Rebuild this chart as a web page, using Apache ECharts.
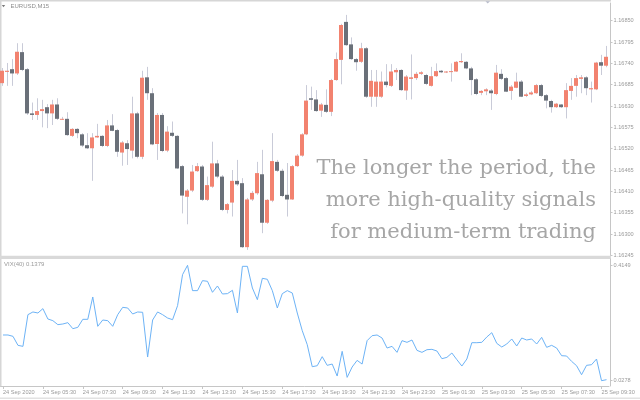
<!DOCTYPE html>
<html><head><meta charset="utf-8">
<script src="https://cdn.jsdelivr.net/npm/echarts@6/dist/echarts.min.js"></script>
<style>html,body{margin:0;padding:0;background:#fff}#c{width:640px;height:400px}</style>
</head><body><div id="c"></div>
<script>
// time tick labels, one every 8 bars (M15)
const tickLabels = ['24 Sep 2020','24 Sep 05:30','24 Sep 07:30','24 Sep 09:30','24 Sep 11:30','24 Sep 13:30','24 Sep 15:30','24 Sep 17:30','24 Sep 19:30','24 Sep 21:30','24 Sep 23:30','25 Sep 01:30','25 Sep 03:30','25 Sep 05:30','25 Sep 07:30','25 Sep 09:30'];
const priceTicks = [1.16850,1.16795,1.16740,1.16685,1.16630,1.16575,1.16520,1.16465,1.16410,1.16355,1.16300,1.16245];
const vixTicks = [0.4149,0.0278];

const opens = [
1.16689,1.16718,1.16725,1.16714,1.16769,1.16725,1.16611,1.16607,1.16617,1.16627,
1.16611,1.16634,1.16595,1.16597,1.16553,1.16571,1.16557,1.16529,1.16521,1.16549,
1.16553,1.16527,1.16580,1.16568,1.16510,1.16534,1.16515,1.16611,1.16499,1.16704,
1.16663,1.16532,1.16607,1.16515,1.16561,1.16553,1.16475,1.16396,1.16412,1.16462,
1.16474,1.16388,1.16422,1.16482,1.16448,1.16362,1.16381,1.16437,1.16431,1.16266,
1.16389,1.16405,1.16454,1.16329,1.16386,1.16486,1.16463,1.16401,1.16389,1.16475,
1.16502,1.16557,1.16650,1.16647,1.16618,1.16633,1.16615,1.16697,1.16749,1.16847,
1.16789,1.16751,1.16744,1.16779,1.16654,1.16654,1.16654,1.16693,1.16682,1.16717,
1.16723,1.16670,1.16700,1.16702,1.16713,1.16710,1.16682,1.16707,1.16721,1.16718,
1.16718,1.16719,1.16743,1.16744,1.16727,1.16699,1.16664,1.16668,1.16670,1.16661,
1.16713,1.16702,1.16669,1.16677,1.16693,1.16656,1.16660,1.16663,1.16684,1.16658,
1.16643,1.16627,1.16634,1.16627,1.16669,1.16682,1.16700,1.16704,1.16673,1.16673,
1.16743,1.16734];
const closes = [
1.16721,1.16721,1.16714,1.16770,1.16723,1.16611,1.16607,1.16617,1.16622,1.16611,
1.16634,1.16597,1.16597,1.16555,1.16571,1.16560,1.16528,1.16521,1.16549,1.16553,
1.16527,1.16580,1.16566,1.16512,1.16536,1.16519,1.16611,1.16499,1.16703,1.16663,
1.16531,1.16607,1.16514,1.16564,1.16553,1.16469,1.16399,1.16412,1.16461,1.16475,
1.16388,1.16426,1.16482,1.16448,1.16362,1.16377,1.16437,1.16428,1.16266,1.16389,
1.16406,1.16457,1.16329,1.16388,1.16488,1.16463,1.16398,1.16389,1.16475,1.16502,
1.16557,1.16644,1.16646,1.16617,1.16634,1.16615,1.16697,1.16751,1.16839,1.16787,
1.16751,1.16743,1.16779,1.16654,1.16695,1.16693,1.16693,1.16684,1.16719,1.16723,
1.16671,1.16706,1.16704,1.16713,1.16717,1.16687,1.16707,1.16720,1.16717,1.16719,
1.16720,1.16744,1.16746,1.16727,1.16697,1.16661,1.16669,1.16673,1.16663,1.16716,
1.16700,1.16667,1.16680,1.16693,1.16654,1.16660,1.16665,1.16684,1.16656,1.16644,
1.16627,1.16636,1.16627,1.16671,1.16682,1.16702,1.16704,1.16676,1.16676,1.16742,
1.16734,1.16757];
const lows = [
1.16682,1.16682,1.16682,1.16710,1.16720,1.16607,1.16594,1.16594,1.16575,1.16573,
1.16581,1.16594,1.16594,1.16553,1.16550,1.16547,1.16524,1.16519,1.16437,1.16548,
1.16524,1.16524,1.16565,1.16499,1.16476,1.16478,1.16495,1.16495,1.16493,1.16646,
1.16529,1.16491,1.16511,1.16511,1.16550,1.16468,1.16353,1.16325,1.16408,1.16460,
1.16385,1.16385,1.16419,1.16444,1.16359,1.16353,1.16345,1.16424,1.16264,1.16259,
1.16385,1.16401,1.16302,1.16326,1.16382,1.16460,1.16395,1.16345,1.16388,1.16473,
1.16499,1.16555,1.16620,1.16615,1.16602,1.16612,1.16604,1.16695,1.16686,1.16785,
1.16749,1.16721,1.16741,1.16651,1.16628,1.16628,1.16651,1.16678,1.16679,1.16697,
1.16669,1.16646,1.16647,1.16697,1.16710,1.16684,1.16680,1.16705,1.16715,1.16715,
1.16693,1.16718,1.16741,1.16725,1.16658,1.16658,1.16658,1.16658,1.16620,1.16658,
1.16697,1.16666,1.16646,1.16676,1.16653,1.16653,1.16658,1.16661,1.16653,1.16624,
1.16613,1.16625,1.16625,1.16598,1.16646,1.16654,1.16663,1.16658,1.16639,1.16671,
1.16710,1.16730];
const highs = [
1.16728,1.16741,1.16751,1.16792,1.16792,1.16728,1.16639,1.16650,1.16646,1.16635,
1.16646,1.16650,1.16602,1.16614,1.16573,1.16573,1.16560,1.16560,1.16560,1.16584,
1.16555,1.16594,1.16609,1.16571,1.16540,1.16542,1.16654,1.16615,1.16721,1.16731,
1.16676,1.16612,1.16612,1.16578,1.16590,1.16555,1.16478,1.16416,1.16478,1.16483,
1.16478,1.16448,1.16538,1.16491,1.16452,1.16380,1.16465,1.16491,1.16444,1.16393,
1.16411,1.16486,1.16517,1.16390,1.16560,1.16491,1.16468,1.16483,1.16478,1.16506,
1.16560,1.16684,1.16680,1.16671,1.16638,1.16673,1.16700,1.16768,1.16842,1.16865,
1.16807,1.16754,1.16793,1.16782,1.16723,1.16723,1.16719,1.16738,1.16738,1.16728,
1.16725,1.16710,1.16763,1.16718,1.16720,1.16713,1.16731,1.16740,1.16723,1.16720,
1.16740,1.16746,1.16766,1.16746,1.16731,1.16702,1.16671,1.16676,1.16674,1.16736,
1.16725,1.16705,1.16684,1.16716,1.16697,1.16664,1.16669,1.16687,1.16687,1.16661,
1.16646,1.16638,1.16635,1.16689,1.16702,1.16710,1.16710,1.16707,1.16693,1.16744,
1.16762,1.16785];
const vix = [
0.1811,0.1811,0.1766,0.1464,0.1430,0.2493,0.2583,0.2549,0.2695,0.2348,
0.2292,0.2158,0.2180,0.2225,0.2023,0.2068,0.2337,0.2337,0.3086,0.2102,
0.2314,0.2292,0.2102,0.2493,0.2739,0.2717,0.2516,0.2583,0.2572,0.1072,
0.2314,0.2583,0.2493,0.2381,0.2325,0.2795,0.3836,0.4149,0.3299,0.3299,
0.3634,0.3612,0.3243,0.3455,0.3187,0.3198,0.3310,0.2549,0.4115,0.4115,
0.3388,0.2997,0.3713,0.3679,0.3299,0.2717,0.3198,0.3299,0.3220,0.2549,
0.1956,0.1486,0.0748,0.0781,0.1084,0.0793,0.0837,0.0435,0.1263,0.0390,
0.0737,0.0960,0.0837,0.1621,0.1788,0.1811,0.1710,0.1374,0.1430,0.1229,
0.1621,0.1565,0.1643,0.1296,0.1229,0.1318,0.1330,0.1274,0.1016,0.1061,
0.1207,0.0983,0.0770,0.1005,0.1553,0.1553,0.1565,0.1744,0.1889,0.1531,
0.1408,0.1509,0.1677,0.1442,0.1710,0.1643,0.1677,0.1509,0.1732,0.1397,
0.1464,0.1374,0.1117,0.1106,0.0927,0.0781,0.0479,0.0793,0.0815,0.1005,
0.0278,0.0312];

const categories = opens.map((_, i) => String(i));
const candleData = opens.map((o, i) => [i, o, closes[i], lows[i], highs[i]]);

const UP = '#f2826f', DOWN = '#6a7079', WICK = '#c9cbd8';
const AX = '#c6c6c6', LBL = '#9a9a9a';
const FONT = 'Liberation Sans';

const chart = echarts.init(document.getElementById('c'), null, {renderer: 'canvas'});
chart.setOption({
  animation: false,
  backgroundColor: '#ffffff',
  grid: [
    {left: -1, top: 3, width: 610, height: 252.3},
    {left: -1, top: 259, width: 610, height: 127}
  ],
  xAxis: [
    {type: 'category', gridIndex: 0, data: categories, boundaryGap: true,
     axisLine: {show: false}, axisTick: {show: false}, axisLabel: {show: false}, splitLine: {show: false}},
    {type: 'category', gridIndex: 1, data: categories, boundaryGap: true,
     axisLine: {show: true, lineStyle: {color: AX, width: 1}},
     axisTick: {show: true, alignWithLabel: true, interval: 7, length: 3, lineStyle: {color: AX}},
     axisLabel: {show: true, interval: 7, align: 'left', margin: 3, fontSize: 5.6, color: LBL, fontFamily: FONT,
       formatter: (v, idx) => (idx % 8 === 0 && tickLabels[idx / 8]) ? tickLabels[idx / 8] : ''},
     splitLine: {show: false}}
  ],
  yAxis: [
    {type: 'value', gridIndex: 0, position: 'right', min: 1.16245, max: 1.168957, offset: 1.5, scale: true,
     axisLine: {show: true, lineStyle: {color: AX}},
     axisTick: {show: true, length: 2, customValues: priceTicks, lineStyle: {color: AX}},
     axisLabel: {show: true, customValues: priceTicks, margin: 3, fontSize: 5.6, color: LBL, fontFamily: FONT,
       formatter: v => v.toFixed(5)},
     splitLine: {show: false}},
    {type: 'value', gridIndex: 1, position: 'right', min: 0.01002, max: 0.43603, offset: 1.5,
     axisLine: {show: true, lineStyle: {color: AX}},
     axisTick: {show: true, length: 2, customValues: vixTicks, lineStyle: {color: AX}},
     axisLabel: {show: true, customValues: vixTicks, margin: 3, fontSize: 5.6, color: LBL, fontFamily: FONT,
       formatter: v => v.toFixed(4)},
     splitLine: {show: false}}
  ],
  series: [
    {type: 'custom', xAxisIndex: 0, yAxisIndex: 0, data: candleData,
     encode: {x: 0, y: [1, 2, 3, 4]},
     renderItem: function (params, api) {
       const i = api.value(0);
       const o = api.value(1), c = api.value(2), lo = api.value(3), hi = api.value(4);
       const pO = api.coord([i, o]), pC = api.coord([i, c]);
       const yL = api.coord([i, lo])[1], yH = api.coord([i, hi])[1];
       const cx = pO[0];
       const xw = Math.floor(cx) + 0.5;
       const top = Math.min(pO[1], pC[1]), bot = Math.max(pO[1], pC[1]);
       return {type: 'group', children: [
         {type: 'line', shape: {x1: xw, y1: yH, x2: xw, y2: yL}, style: {stroke: WICK, lineWidth: 1}},
         {type: 'rect', shape: {x: Math.floor(cx - 2), y: top, width: 4, height: Math.max(bot - top, 1)},
          style: {fill: c >= o ? UP : DOWN}}
       ]};
     }},
    {type: 'line', xAxisIndex: 1, yAxisIndex: 1, data: vix, symbol: 'none',
     lineStyle: {color: '#6db3f6', width: 1}}
  ],
  graphic: [
    {type: 'rect', shape: {x: 0, y: 0, width: 611, height: 1.5}, style: {fill: '#d6d6d6'}, silent: true},
    {type: 'rect', shape: {x: 0, y: 0, width: 1.5, height: 386}, style: {fill: '#d6d6d6'}, silent: true},
    {type: 'rect', shape: {x: 0, y: 255.8, width: 611, height: 3.2}, style: {fill: '#d9d9d9'}, silent: true},
    {type: 'rect', shape: {x: 0, y: 397.5, width: 640, height: 1.5}, style: {fill: '#e2e2e2'}, silent: true},
    {type: 'polygon', shape: {points: [[1.8, 5], [5.2, 5], [3.5, 7.2]]}, style: {fill: '#7a7a7a'}, silent: true},
    {type: 'polygon', shape: {points: [[485.5, 1.2], [490, 1.2], [487.7, 3.6]]}, style: {fill: '#b9bccb'}, silent: true},
    {type: 'text', x: 10.5, y: 6.2, style: {text: 'EURUSD,M15', fontSize: 6, fontFamily: FONT, fill: '#8e8e8e', verticalAlign: 'middle'}, silent: true},
    {type: 'text', x: 4, y: 264, style: {text: 'VIX(40) 0.1379', fontSize: 6, fontFamily: FONT, fill: '#9a9a9a', verticalAlign: 'middle'}, silent: true},
    {type: 'text', x: 596, y: 169, style: {text: 'The longer the period, the', fontSize: 21, fontFamily: 'DejaVu Serif', fill: '#a6a6a6', align: 'right', verticalAlign: 'middle'}, silent: true},
    {type: 'text', x: 596, y: 201, style: {text: 'more high-quality signals', fontSize: 21, fontFamily: 'DejaVu Serif', fill: '#a6a6a6', align: 'right', verticalAlign: 'middle'}, silent: true},
    {type: 'text', x: 596, y: 233, style: {text: 'for medium-term trading', fontSize: 21, fontFamily: 'DejaVu Serif', fill: '#a6a6a6', align: 'right', verticalAlign: 'middle'}, silent: true}
  ]
});
</script>
</body></html>
